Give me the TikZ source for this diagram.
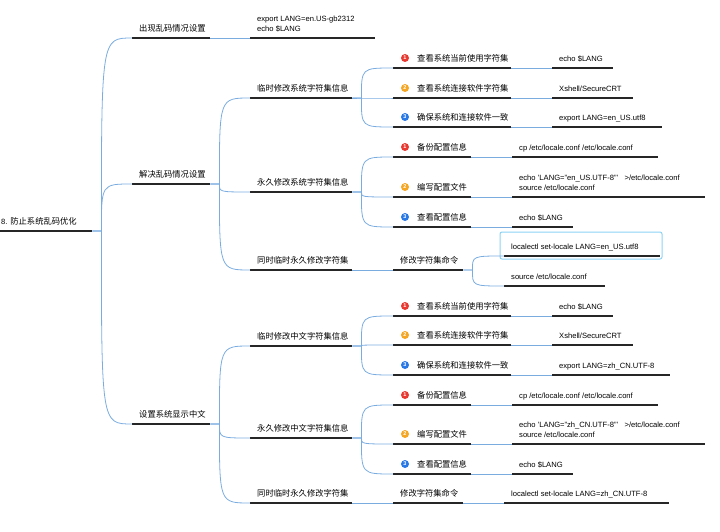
\documentclass[tikz,border=0pt]{standalone}
\usepackage{fontspec}
\setmainfont{Liberation Sans}
\newfontfamily\cjk{Noto Sans CJK SC}
\usetikzlibrary{calc}
\definecolor{linkblue}{RGB}{122, 172, 224}
\definecolor{boxblue}{RGB}{140, 210, 245}
\definecolor{bred}{RGB}{232, 56, 48}
\definecolor{borange}{RGB}{245, 166, 35}
\definecolor{bblue}{RGB}{40, 120, 230}
\tikzset{
    topic/.style={anchor=south west, inner xsep=7pt, inner ysep=3pt,
        font=\fontsize{7.6}{10}\selectfont},
    uline/.style={line width=1.6pt, color=black!85},
    link/.style={line width=0.8pt, color=linkblue},
    badge/.style={circle, inner sep=0pt, minimum size=8pt, text=white,
        font=\fontsize{5.5}{6}\selectfont\bfseries}
}
\newcommand\zh[1]{{\cjk\fontsize{8.3}{10}\selectfont #1}}
\newcommand\qq{\symbol{34}}
\newcommand\q{\symbol{39}}
\newcommand\topic[5]{%
    \pgfmathsetmacro\tw{#4-14}
    \node[topic] (#1) at (#2, #3)
        {\makebox[\tw pt][l]{\begin{tabular}{@{}l@{}}#5\end{tabular}}};
    \draw[uline] (#1.south west) -- (#1.south east);}
\newcommand\branch[2]{%
    \draw[link] (#1.south east) -- ($(#1.south east)+(9,0)$) coordinate (#1B)
        .. controls (#1B |- #2.south west) .. (#2.south west);}
\newcommand\badge[3]{%
    \node[badge, fill=#2] (#1-n) at ($(#1.south west)+(12,-10)$) {#3};}

\begin{document}
\begin{tikzpicture}[x=1pt, y=-1pt]
    \useasboundingbox (0, 0) rectangle (720, 532);
    % root and first level
    \topic{root}{-6}{231}{98}{8. \zh{防止系统乱码优化}}
    \topic{s1}{132}{38}{78}{\zh{出现乱码情况设置}}
    \topic{s2}{132}{184}{78}{\zh{解决乱码情况设置}}
    \topic{s3}{132}{424}{78}{\zh{设置系统显示中文}}
    \topic{s1l}{250}{38}{125}{export LANG=en.US-gb2312\\echo \$LANG}

    % solving: second level
    \topic{t1}{250}{98}{102}{\zh{临时修改系统字符集信息}}
    \topic{t2}{250}{192}{102}{\zh{永久修改系统字符集信息}}
    \topic{t3}{250}{270}{102}{\zh{同时临时永久修改字符集}}
    \topic{a1}{393}{68}{118}{\hspace*{17pt}\zh{查看系统当前使用字符集}}
    \topic{a2}{393}{98}{118}{\hspace*{17pt}\zh{查看系统连接软件字符集}}
    \topic{a3}{393}{127}{118}{\hspace*{17pt}\zh{确保系统和连接软件一致}}
    \topic{a1l}{552}{68}{61}{echo \$LANG}
    \topic{a2l}{552}{98}{81}{Xshell/SecureCRT}
    \topic{a3l}{552}{127}{110}{export LANG=en\_US.utf8}
    \topic{b1}{393}{157}{78}{\hspace*{17pt}\zh{备份配置信息}}
    \topic{b2}{393}{197}{78}{\hspace*{17pt}\zh{编写配置文件}}
    \topic{b3}{393}{227}{78}{\hspace*{17pt}\zh{查看配置信息}}
    \topic{b1l}{512}{157}{146}{cp /etc/locale.conf /etc/locale.conf}
    \topic{b2l}{512}{197}{193}{echo \q LANG=\qq en\_US.UTF-8\qq\q\ \ \ >/etc/locale.conf\\source /etc/locale.conf}
    \topic{b3l}{512}{227}{61}{echo \$LANG}
    \topic{m1}{393}{270}{70}{\zh{修改字符集命令}}
    \draw[boxblue, line width=1pt, rounded corners=2pt] (500, 232) rectangle (662, 259);
    \topic{m1l}{504}{256}{156}{localectl set-locale LANG=en\_US.utf8}
    \topic{m2l}{504}{286}{101}{source /etc/locale.conf}

    % chinese display: second level
    \topic{c1}{250}{346}{102}{\zh{临时修改中文字符集信息}}
    \topic{c2}{250}{438}{102}{\zh{永久修改中文字符集信息}}
    \topic{c3}{250}{503}{102}{\zh{同时临时永久修改字符集}}
    \topic{ca1}{393}{316}{118}{\hspace*{17pt}\zh{查看系统当前使用字符集}}
    \topic{ca2}{393}{345}{118}{\hspace*{17pt}\zh{查看系统连接软件字符集}}
    \topic{ca3}{393}{375}{118}{\hspace*{17pt}\zh{确保系统和连接软件一致}}
    \topic{ca1l}{552}{316}{61}{echo \$LANG}
    \topic{ca2l}{552}{345}{81}{Xshell/SecureCRT}
    \topic{ca3l}{552}{375}{118}{export LANG=zh\_CN.UTF-8}
    \topic{cb1}{393}{405}{78}{\hspace*{17pt}\zh{备份配置信息}}
    \topic{cb2}{393}{444}{78}{\hspace*{17pt}\zh{编写配置文件}}
    \topic{cb3}{393}{474}{78}{\hspace*{17pt}\zh{查看配置信息}}
    \topic{cb1l}{512}{405}{146}{cp /etc/locale.conf /etc/locale.conf}
    \topic{cb2l}{512}{444}{193}{echo \q LANG=\qq zh\_CN.UTF-8\qq\q\ \ \ >/etc/locale.conf\\source /etc/locale.conf}
    \topic{cb3l}{512}{474}{61}{echo \$LANG}
    \topic{cm1}{393}{503}{70}{\zh{修改字符集命令}}
    \topic{cm1l}{504}{503}{165}{localectl set-locale LANG=zh\_CN.UTF-8}

    % badges
    \foreach \n in {a, b, ca, cb} {
        \badge{\n1}{bred}{1}
        \badge{\n2}{borange}{2}
        \badge{\n3}{bblue}{3}
    }

    % connectors
    \foreach \t in {s1, s2, s3} {\branch{root}{\t}}
    \draw[link] (s1.south east) -- (s1l.south west);
    \foreach \t in {t1, t2, t3} {\branch{s2}{\t}}
    \foreach \t in {c1, c2, c3} {\branch{s3}{\t}}
    \foreach \p/\q in {t1/a, t2/b, c1/ca, c2/cb} {
        \foreach \i in {1, 2, 3} {
            \branch{\p}{\q\i}
            \draw[link] (\q\i.south east) -- (\q\i l.south west);
        }
    }
    \draw[link] (t3.south east) -- (m1.south west);
    \branch{m1}{m1l}
    \branch{m1}{m2l}
    \draw[link] (c3.south east) -- (cm1.south west);
    \draw[link] (cm1.south east) -- (cm1l.south west);
\end{tikzpicture}
\end{document}
